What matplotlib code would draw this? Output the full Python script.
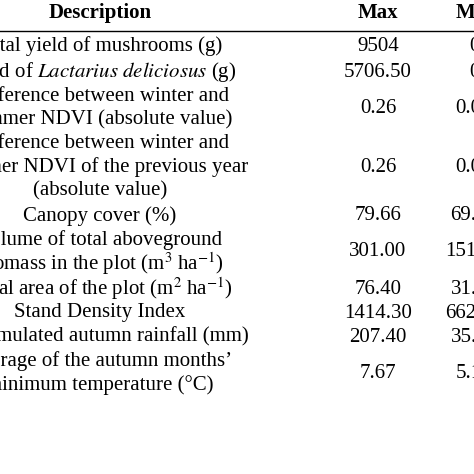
import matplotlib
matplotlib.use("Agg")
import matplotlib.pyplot as plt

headers = ["Description", "Max", "Min"]
descriptions = [
    ["Total yield of mushrooms (g)"],
    [r"Yield of $\it{Lactarius\ deliciosus}$ (g)"],
    ["Difference between winter and", "summer NDVI (absolute value)"],
    ["Difference between winter and", "summer NDVI of the previous year", "(absolute value)"],
    ["Canopy cover (%)"],
    ["Volume of total aboveground", r"biomass in the plot (m$^3$ ha$^{-1}$)"],
    [r"Basal area of the plot (m$^2$ ha$^{-1}$)"],
    ["Stand Density Index"],
    ["Accumulated autumn rainfall (mm)"],
    ["Average of the autumn months’", "minimum temperature (°C)"],
]
max_vals = ["9504", "5706.50", "0.26", "0.26", "79.66", "301.00", "76.40", "1414.30", "207.40", "7.67"]
min_vals = ["0", "0", "0.04", "0.04", "69.75", "151.20", "31.60", "662.50", "35.20", "5.12"]
row_y = [46, 72, 108, 167, 216, 252, 289, 313, 337, 373]
line_gap = 23.5

W = H = 474
plt.rcParams["mathtext.fontset"] = "stix"
fig = plt.figure(figsize=(4.74, 4.74), dpi=100)
fig.patch.set_facecolor("white")
ax = fig.add_axes([0, 0, 1, 1])
ax.set_xlim(0, W)
ax.set_ylim(H, 0)
ax.axis("off")
fam = ["Liberation Serif", "DejaVu Serif"]
fs = 15
desc_x, max_x, min_x = 100, 378, 474
ax.text(desc_x, 13, headers[0], ha="center", va="center", fontsize=fs, fontweight="bold", family=fam)
ax.text(max_x, 13, headers[1], ha="center", va="center", fontsize=fs, fontweight="bold", family=fam)
ax.text(min_x, 13, headers[2], ha="center", va="center", fontsize=fs, fontweight="bold", family=fam)
ax.plot([0, W], [31, 31], color="black", lw=1.0)
for lines, mx, mn, y in zip(descriptions, max_vals, min_vals, row_y):
    n = len(lines)
    for i, t in enumerate(lines):
        yy = y + (i - (n - 1) / 2) * line_gap
        ax.text(desc_x, yy, t, ha="center", va="center", fontsize=fs, family=fam)
    ax.text(max_x, y, mx, ha="center", va="center", fontsize=fs, family=fam)
    ax.text(min_x, y, mn, ha="center", va="center", fontsize=fs, family=fam)
fig.savefig("out.png", dpi=100, facecolor="white")
